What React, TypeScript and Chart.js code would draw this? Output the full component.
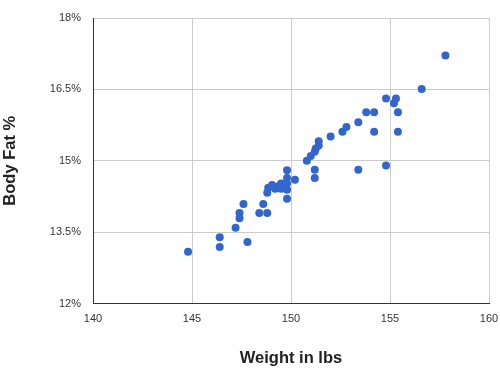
import React, { useEffect, useRef } from "react";
import { Chart, registerables } from "chart.js";

Chart.register(...registerables);

const weights: number[] = [
  144.8, 146.4, 146.4, 147.2, 147.4, 147.4, 147.6, 147.8, 148.4, 148.8,
  148.6, 148.8, 148.85, 149.05, 149.2, 149.4, 149.5, 149.5, 149.8, 149.8,
  149.8, 149.8, 149.8, 150.2, 150.8, 151.0, 151.2, 151.25, 151.4, 151.4,
  151.2, 151.2, 152.0, 152.6, 152.8, 153.4, 153.4, 153.8, 154.2, 154.2,
  154.8, 154.8, 155.3, 155.2, 155.4, 155.4, 156.6, 157.8,
];
const bodyFat: number[] = [
  13.09, 13.39, 13.19, 13.59, 13.79, 13.9, 14.09, 13.29, 13.9, 13.9,
  14.09, 14.33, 14.43, 14.49, 14.41, 14.47, 14.52, 14.41, 14.8, 14.64,
  14.52, 14.39, 14.2, 14.6, 15.0, 15.1, 15.19, 15.26, 15.32, 15.41,
  14.81, 14.64, 15.51, 15.61, 15.71, 15.81, 14.81, 16.02, 16.02, 15.61,
  16.31, 14.9, 16.31, 16.21, 16.02, 15.61, 16.51, 17.21,
];
const xTicks: number[] = [140, 145, 150, 155, 160];
const yTicks: number[] = [12, 13.5, 15, 16.5, 18];
const xTitle = "Weight in lbs";
const yTitle = "Body Fat %";

export default function App() {
  const ref = useRef<HTMLCanvasElement | null>(null);
  useEffect(() => {
    if (!ref.current) return;
    const data = weights.map((w, i) => ({ x: w, y: bodyFat[i] }));
    const chart = new Chart(ref.current, {
      type: "scatter",
      data: {
        datasets: [
          {
            data,
            backgroundColor: "#3366CC",
            borderColor: "#3366CC",
            borderWidth: 0,
            pointRadius: 4,
            pointHoverRadius: 4,
          },
        ],
      },
      options: {
        animation: false,
        responsive: false,
        maintainAspectRatio: false,
        layout: { padding: { left: 0, right: 11, top: 18, bottom: 0 } },
        plugins: { legend: { display: false }, tooltip: { enabled: false } },
        scales: {
          x: {
            type: "linear",
            min: 140,
            max: 160,
            afterBuildTicks: (s: any) => {
              s.ticks = xTicks.map((v) => ({ value: v }));
            },
            afterFit: (s: any) => {
              s.height = 64.5;
            },
            ticks: {
              padding: 0,
              font: { family: "Arial, 'Liberation Sans'", size: 11 },
              color: "#333",
              callback: (v: any) => String(v),
            },
            grid: { color: "#cccccc", drawTicks: true, tickLength: 9, tickColor: "rgba(0,0,0,0)" },
            border: { color: "#333", width: 1 },
            title: {
              display: true,
              text: xTitle,
              font: { family: "Arial, 'Liberation Sans'", size: 16.5, weight: "bold" },
              color: "#222",
              padding: { top: 0, bottom: 0 },
            },
          },
          y: {
            type: "linear",
            min: 12,
            max: 18,
            afterBuildTicks: (s: any) => {
              s.ticks = yTicks.map((v) => ({ value: v }));
            },
            afterFit: (s: any) => {
              s.width = 93;
            },
            ticks: {
              padding: 0,
              font: { family: "Arial, 'Liberation Sans'", size: 11 },
              color: "#333",
              callback: (v: any) => v + "%",
            },
            grid: { color: "#cccccc", drawTicks: true, tickLength: 12, tickColor: "rgba(0,0,0,0)" },
            border: { color: "#333", width: 1 },
            title: {
              display: true,
              text: yTitle,
              font: { family: "Arial, 'Liberation Sans'", size: 16.5, weight: "bold" },
              color: "#222",
              padding: { top: 1, bottom: 0 },
            },
          },
        },
      },
    });
    return () => chart.destroy();
  }, []);
  return (
    <div style={{ position: "absolute", left: 0, top: 0, width: 500, height: 368, background: "#fff" }}>
      <canvas ref={ref} width={500} height={368} style={{ width: 500, height: 368 }} />
    </div>
  );
}
